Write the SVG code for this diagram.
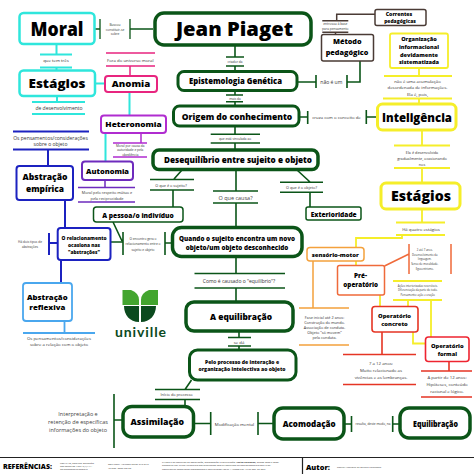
<svg xmlns="http://www.w3.org/2000/svg" width="474" height="474" viewBox="0 0 474 474">
<style>
text{font-family:"Open Sans","Noto Sans","Liberation Sans",sans-serif;text-anchor:middle;fill:#000}
.b{font-weight:800}
.xs{fill:#333;font-size:3.200px}
.xt{fill:#333;font-size:2.700px}
.xm{fill:#333;font-size:3.800px}
.t{fill:#333;font-size:4.300px}
.t5{fill:#333;font-size:5px}
.m{fill:#444;font-size:5.500px}
.f{fill:#333;font-size:2.400px;text-anchor:start}
rect{fill:#fff}
path{fill:none}
.dg{stroke:#0b5518}
.g3{stroke-width:3.5}
.cy{stroke:#2fe6dc;stroke-width:2}
.yl{stroke:#f5ee2a;stroke-width:1.8}
.bl{stroke:#1c22c0;stroke-width:2}
.lb{stroke:#4aa7ee;stroke-width:1.8}
.pk{stroke:#e8257f;stroke-width:1.5}
.pu{stroke:#b02cd0;stroke-width:1.5}
.vi{stroke:#6e2bbd;stroke-width:1.5}
.or{stroke:#f4a13c;stroke-width:1.5}
.ro{stroke:#ef6a3a;stroke-width:1.5}
.rd{stroke:#e53524;stroke-width:1.6}
.br{stroke:#4a3b35;stroke-width:1.5}
</style>
<rect x="0" y="0" width="474" height="474" style="fill:#fff"/>
<g id="connectors">
<path class="dg" stroke-width="1.300" d="M95 29H100M100 19V39M130 19V39M130 29H153"/>
<path class="cy" d="M56.500 44V54.500M56.500 67.500V70M40 54.500H72M40 67.500H72M57 96V102M32 102H85M32 114H85M95 83.500H105"/>
<path class="pk" d="M106 53H155M106 66H155M130 66V76"/>
<path class="cy" d="M129.500 92V115M105.500 133V161.500"/>
<path class="pu" d="M141 133V143M113 143H147M113 157H147"/>
<path class="vi" d="M105 180V187.500M78 187.500H135M78 202H135"/>
<path class="bl" d="M13 131.500H89M13 149.500H89M48 150V166M65 200V228M49 243H58M49 233V255M61 260V283"/>
<path class="lb" d="M64.500 321V333M23 333H95"/>
<path class="dg" stroke-width="1.600" d="M235 46V57M235 66V71M226 57H244M226 66H244M235 90V95M235 101.700V106M226 95H243M226 101.700H243M235 127V134.300M235 143V150M210.700 134.300H260M210.700 143H260"/>
<path class="dg" stroke-width="1.600" d="M298 82H316M316 75V88M347 75V88M347 82H360V61"/>
<path class="dg" stroke-width="1.600" d="M299 117H307.700M307.700 111V124M366.300 110V124M366.300 117H376"/>
<path class="br" d="M375 14.300H336.700V20.700M322.300 20.700H348.300M322.300 32.300H348.300M335.500 32.300V34.500"/>
<path class="yl" d="M419 68V76M384 76H452M383 98.500H452M419 99V104M422 130V145M394 145.500H450M394 168H450M422 168V183M422 209V222M396 222.500H445M396 235H445M402 236V238H356V265M380 295V307M393 281H442M393 300H442M408 300V306M413 332V343.500H425.500M431 300V337"/>
<path class="dg" stroke-width="1.600" d="M182 170L174 179M150 179.500H194M150 190H194M173 190V207M297 170L310 182M280 182.300H323M280 192.300H323M310 193V207M236 170V191M236 203V227M213 191H258M213 203H258"/>
<path class="dg" stroke-width="1.600" d="M113 222L122 241M111 242H123M123 232V255M165 232V255M165 243H172"/>
<path class="dg" stroke-width="1.600" d="M236 256V273.500M236 288V302M194.500 273.500H285M194.500 288H285M239 331V337.500M239 346V350M228 337.500H251M228 346H251M191.500 380L185 389.500M155 389.500H200M155 399.500H200M185 400V406.500"/>
<path class="dg" stroke-width="1.600" d="M114 394V448M114 420H123M194 423.500H211M210.700 412V435M258 412V435M258 423.500H274M344 424H351.500M351.500 416V432M392.700 416V432M392.700 424H400"/>
<path class="or" d="M313 261V308M299 308H349M299 345H349"/>
<path class="ro" d="M384.500 266L409 254M409 244V274M451 244V274"/>
<path class="rd" d="M382 332V354.500M343 354.500H416M343 384.500H416M449 361.500V371M421 371H472M421 397H472"/>
</g>
<g id="moral"><rect class="cy" style="stroke-width:2.500" x="19.500" y="13" width="75" height="31" rx="4"/><text class="b" x="57" y="35.700" font-size="19.600" textLength="53" lengthAdjust="spacingAndGlyphs">Moral</text></g>
<g id="estagios-moral"><rect class="cy" style="stroke-width:2.500" x="19.500" y="70.500" width="75.500" height="25.500" rx="4"/><text class="b" x="57" y="87.700" font-size="13" textLength="57" lengthAdjust="spacingAndGlyphs">Estágios</text></g>
<g id="jean-piaget"><rect class="dg g3" x="155" y="13" width="156" height="32" rx="9"/><text class="b" x="234.500" y="35.700" font-size="20" textLength="117" lengthAdjust="spacingAndGlyphs">Jean Piaget</text></g>
<g id="epistemologia"><rect class="dg" stroke-width="3" x="178" y="71.500" width="119" height="19" rx="6"/><text class="b" x="235.500" y="83.500" font-size="8" textLength="93" lengthAdjust="spacingAndGlyphs">Epistemologia Genética</text></g>
<g id="origem"><rect class="dg" stroke-width="3" x="173.500" y="106" width="125.500" height="20" rx="6"/><text class="b" x="237" y="119.500" font-size="8.500" textLength="110.600" lengthAdjust="spacingAndGlyphs">Origem do conhecimento</text></g>
<g id="desequilibrio"><rect class="dg" stroke-width="3.500" x="153" y="150" width="165" height="19.500" rx="6"/><text class="b" x="238" y="163.300" font-size="9" textLength="148" lengthAdjust="spacingAndGlyphs">Desequilíbrio entre sujeito e objeto</text></g>
<g id="quando"><rect class="dg g3" x="172.500" y="227.500" width="129.500" height="29" rx="9"/><text class="b" x="237" y="240.700" font-size="7" textLength="116" lengthAdjust="spacingAndGlyphs">Quando o sujeito encontra um novo</text><text class="b" x="237" y="249.500" font-size="7" textLength="102.600" lengthAdjust="spacingAndGlyphs">objeto/um objeto desconhecido</text></g>
<g id="a-equilibracao"><rect class="dg g3" x="186" y="302" width="107" height="29" rx="8"/><text class="b" x="241" y="320" font-size="9" textLength="62" lengthAdjust="spacingAndGlyphs">A equilibração</text></g>
<g id="pelo-processo"><rect class="dg" stroke-width="3" x="189.500" y="350" width="106.500" height="30" rx="8"/><text class="b" x="242" y="364" font-size="5" textLength="74" lengthAdjust="spacingAndGlyphs">Pelo processo de interação e</text><text class="b" x="242" y="371" font-size="5" textLength="87" lengthAdjust="spacingAndGlyphs">organização intelectiva ao objeto</text></g>
<g id="assimilacao"><rect class="dg g3" x="123" y="406.500" width="70.500" height="30.500" rx="9"/><text class="b" x="157.300" y="425" font-size="9.500" textLength="53.500" lengthAdjust="spacingAndGlyphs">Assimilação</text></g>
<g id="acomodacao"><rect class="dg g3" x="274" y="408" width="70" height="31" rx="9"/><text class="b" x="309.200" y="427.300" font-size="9.500" textLength="53" lengthAdjust="spacingAndGlyphs">Acomodação</text></g>
<g id="equilibracao"><rect class="dg g3" x="400" y="408" width="70" height="30" rx="9"/><text class="b" x="435.500" y="427.300" font-size="8.600" textLength="45" lengthAdjust="spacingAndGlyphs">Equilibração</text></g>
<g id="a-pessoa"><rect class="dg" stroke-width="1.500" x="93.500" y="207" width="89.500" height="15" rx="3"/><text class="b" x="138" y="217.500" font-size="7.500" textLength="71.700" lengthAdjust="spacingAndGlyphs">A pessoa/o indivíduo</text></g>
<g id="exterioridade"><rect class="dg" stroke-width="1.500" x="306" y="207" width="55" height="13" rx="2"/><text class="b" x="333.700" y="216.500" font-size="6.300" textLength="46" lengthAdjust="spacingAndGlyphs">Exterioridade</text></g>
<g id="metodo"><rect class="br" x="321.500" y="34.500" width="52" height="26.500" rx="2"/><text class="b" x="347.300" y="44" font-size="6.500" textLength="28.700" lengthAdjust="spacingAndGlyphs">Método</text><text class="b" x="347" y="54.500" font-size="6.500" textLength="42.600" lengthAdjust="spacingAndGlyphs">pedagógico</text></g>
<g id="correntes"><rect class="br" x="375" y="9.500" width="51" height="16" rx="2"/><text class="b" x="399" y="16" font-size="4.500" textLength="26.600" lengthAdjust="spacingAndGlyphs">Correntes</text><text class="b" x="400" y="23" font-size="4.500" textLength="31.700" lengthAdjust="spacingAndGlyphs">pedagógicas</text></g>
<g id="organizacao"><rect class="yl" x="390" y="33.500" width="58" height="34.500" rx="2"/><text class="b" x="419" y="41" font-size="5.200" textLength="35.700" lengthAdjust="spacingAndGlyphs">Organização</text><text class="b" x="419" y="48.500" font-size="5.200" textLength="40" lengthAdjust="spacingAndGlyphs">informacional</text><text class="b" x="419" y="56.500" font-size="5.200" textLength="38" lengthAdjust="spacingAndGlyphs">devidamente</text><text class="b" x="419" y="64" font-size="5.200" textLength="40" lengthAdjust="spacingAndGlyphs">sistematizada</text></g>
<g id="inteligencia"><rect class="yl" style="stroke-width:3" x="377.500" y="104" width="78.500" height="26" rx="5"/><text class="b" x="417" y="121.700" font-size="12.600" textLength="70" lengthAdjust="spacingAndGlyphs">Inteligência</text></g>
<g id="estagios"><rect class="yl" style="stroke-width:3" x="381" y="183" width="79" height="26" rx="5"/><text class="b" x="421" y="200.700" font-size="14" textLength="60" lengthAdjust="spacingAndGlyphs">Estágios</text></g>
<g id="anomia"><rect class="pk" style="stroke-width:2" x="105" y="76" width="52" height="16" rx="3"/><text class="b" x="131" y="87" font-size="8" textLength="38.300" lengthAdjust="spacingAndGlyphs">Anomia</text></g>
<g id="heteronomia"><rect class="pu" style="stroke-width:2" x="101" y="115.500" width="65" height="17.500" rx="3"/><text class="b" x="133.500" y="127" font-size="7.500" textLength="56.400" lengthAdjust="spacingAndGlyphs">Heteronomia</text></g>
<g id="autonomia"><rect class="vi" style="stroke-width:2" x="82" y="161.500" width="51" height="18.500" rx="3"/><text class="b" x="107.500" y="173.500" font-size="7.500" textLength="43" lengthAdjust="spacingAndGlyphs">Autonomia</text></g>
<g id="abstracao-empirica"><rect class="bl" x="16.500" y="166" width="56.500" height="34" rx="3"/><text class="b" x="45" y="179.500" font-size="8" textLength="45" lengthAdjust="spacingAndGlyphs">Abstração</text><text class="b" x="45" y="191.500" font-size="8" textLength="38" lengthAdjust="spacingAndGlyphs">empírica</text></g>
<g id="relacionamento"><rect class="bl" x="57.700" y="228" width="52.800" height="32" rx="3"/><text class="b" x="84" y="239.500" font-size="4.800" textLength="45" lengthAdjust="spacingAndGlyphs">O relacionamento</text><text class="b" x="84" y="246.500" font-size="4.800" textLength="32" lengthAdjust="spacingAndGlyphs">ocasiona nas</text><text class="b" x="84" y="253.500" font-size="4.800" textLength="32" lengthAdjust="spacingAndGlyphs">"abstrações"</text></g>
<g id="abstracao-reflexiva"><rect class="lb" x="23" y="283" width="49" height="38" rx="3"/><text class="b" x="47.300" y="299.500" font-size="7" textLength="40.700" lengthAdjust="spacingAndGlyphs">Abstração</text><text class="b" x="47.300" y="310" font-size="7" textLength="36" lengthAdjust="spacingAndGlyphs">reflexiva</text></g>
<g id="sensorio"><rect class="or" x="307" y="247.500" width="57" height="13.500" rx="3"/><text class="b" x="335.300" y="257" font-size="5.500" textLength="47.300" lengthAdjust="spacingAndGlyphs">sensório-motor</text></g>
<g id="pre-operatorio"><rect class="ro" x="337.500" y="265.500" width="47" height="29.500" rx="2"/><text class="b" x="360.500" y="278" font-size="6" textLength="13" lengthAdjust="spacingAndGlyphs">Pré-</text><text class="b" x="360.700" y="287" font-size="6" textLength="34.700" lengthAdjust="spacingAndGlyphs">operatório</text></g>
<g id="concreto"><rect class="rd" x="372" y="306.500" width="46" height="25.500" rx="3"/><text class="b" x="394.500" y="317.500" font-size="5.400" textLength="33" lengthAdjust="spacingAndGlyphs">Operatório</text><text class="b" x="394.500" y="325.500" font-size="5.400" textLength="26.700" lengthAdjust="spacingAndGlyphs">concreto</text></g>
<g id="formal"><rect stroke="#ee2430" stroke-width="1.600" x="425.500" y="337" width="43.500" height="24.500" rx="3"/><text class="b" x="447.300" y="347.500" font-size="5.200" textLength="32.700" lengthAdjust="spacingAndGlyphs">Operatório</text><text class="b" x="447.300" y="355.500" font-size="5.200" textLength="19.300" lengthAdjust="spacingAndGlyphs">formal</text></g>
<g id="labels">
<text class="xs" x="115" y="26">Buscou</text><text class="xs" x="115" y="30.500">constituir-se</text><text class="xs" x="115" y="35">sobre</text>
<text class="t" x="56" y="61.500">que tem três</text>
<text class="t5" x="59" y="110">de desenvolvimento</text>
<text class="t" x="130.300" y="61.500">Fora do universo moral</text>
<text class="xs" x="130.300" y="147">Moral por causa da</text><text class="xs" x="130.300" y="151.300">autoridade e pela</text><text class="xs" x="130.300" y="155.600">obediência</text>
<text class="xm" x="107" y="194">Moral pelo respeito mútuo e</text><text class="xm" x="107" y="199.500">pela reciprocidade</text>
<text class="t5" x="50.500" y="139.500">Os pensamentos/considerações</text><text class="t5" x="50.500" y="146">sobre o objeto</text>
<text class="xs" x="30" y="243">Há dois tipos de</text><text class="xs" x="30" y="248">abstrações</text>
<text class="xs" x="143" y="240">O encontro gera o</text><text class="xs" x="143" y="245">relacionamento entre o</text><text class="xs" x="143" y="250.500">sujeito e objeto</text>
<text class="t" x="59" y="340">Os pensamentos/considerações</text><text class="t" x="59" y="346">sobre a relação com o objeto</text>
<text class="xs" x="235" y="63">criador da</text>
<text class="xs" x="235" y="99.500">mais da</text>
<text class="xs" x="235" y="140">que está vinculada ao</text>
<text class="t5" x="331.300" y="84">não é um</text>
<text class="t" x="336.500" y="118.800">cruza com o conceito de</text>
<text class="xs" x="335.300" y="25.300">entrosou à base</text><text class="xs" x="335.300" y="29.500">para pensamento</text>
<text class="t" x="417.500" y="82.500">não é uma acumulação</text><text class="t" x="417.500" y="89.200">desordenada de informações.</text><text class="t" x="417.500" y="95.800">Ela é, pois,</text>
<text class="xm" x="422" y="153.700">Ela é desenvolvida</text><text class="xm" x="422" y="159.500">gradualmente, ocasionando</text><text class="xm" x="422" y="165.500">nos</text>
<text class="t" x="421" y="231">Há quatro estágios</text>
<text class="xm" x="171" y="186.500">O que é o sujeito?</text>
<text class="xm" x="301.500" y="188.800">O que é o objeto?</text>
<text class="m" x="235.500" y="200">O que causa?</text>
<text class="t5" x="239" y="282.500">Como é causado o "equilíbrio"?</text>
<text class="t" x="239" y="343.500">se dá</text>
<text class="xm" x="176.500" y="396">Início do processo</text>
<text class="t" x="234.500" y="425.500">Modificação mental</text>
<text class="xs" x="373" y="425.300">resulta, deste modo, na</text>
<text class="m" x="78" y="415.500">Interpretação e</text><text class="m" x="78" y="423.500">retenção de específicas</text><text class="m" x="78" y="431.500">informações do objeto</text>
<text class="xm" x="324.500" y="318.600">Fase inicial até 2 anos:</text><text class="xm" x="324.500" y="323.600">Construção do mundo.</text><text class="xm" x="324.500" y="328.600">Associação de conduta.</text><text class="xm" x="324.500" y="333.600">Objeto "só movem"</text><text class="xm" x="324.500" y="338.600">pela conduta.</text>
<text class="xt" x="424.700" y="251.300">2 até 7 anos.</text><text class="xt" x="424.700" y="256">Desenvolvimento da</text><text class="xt" x="424.700" y="260.300">linguagem.</text><text class="xt" x="424.700" y="265">Senso de moralidade.</text><text class="xt" x="424.700" y="269.700">Egocentrismo.</text>
<text class="xt" x="417.700" y="287.300">Ações interiorizadas reversíveis.</text><text class="xt" x="417.700" y="291.300">Diferenciação da parte do todo.</text><text class="xt" x="417.700" y="295.700">Pensamento: ação e oração</text>
<text class="t" x="381" y="365">7 a 12 anos:</text><text class="t" x="381" y="372">Muito relacionado as</text><text class="t" x="381" y="379">vivências e as lembranças.</text>
<text class="t" x="447" y="379">A partir de 12 anos:</text><text class="t" x="447" y="386">Hipóteses, conteúdo</text><text class="t" x="447" y="392.500">racional e lógico.</text>
</g>
<g id="logo">
<path style="fill:#43a52f" d="M122.500 290H131Q139 293 139 300V305H122.500ZM158 290H149Q141 293 141 300V305H158Z"/>
<path style="fill:#0b4a1e" d="M124 306H139V322C130 322 124 315 124 306ZM141 306H156C156 315 150 322 141 322Z"/>
<text x="140.500" y="336.800" font-size="14" textLength="51" lengthAdjust="spacing" style="font-family:Lato,'Noto Sans',sans-serif;font-weight:700;fill:#0b4a1e">univille</text>
</g>
<g id="footer">
<path stroke="#222" stroke-width="1.200" d="M0 457.500H474M302.500 458V474"/>
<text class="b" x="27.500" y="469" font-size="7" textLength="49" lengthAdjust="spacingAndGlyphs">REFERÊNCIAS:</text>
<text class="b" x="318" y="469.500" font-size="7.500" textLength="24" lengthAdjust="spacingAndGlyphs">Autor:</text>
<text class="f" x="337" y="467.500">Gabriel Henrique de Oliveira Fernandes</text>
<text class="f" x="60" y="464">COLAÇÃO, pontuda. Educação:</text><text class="f" x="60" y="467">dos conceitos 1999. 5(1):114-</text><text class="f" x="60" y="470">do pensamento/escola/a</text>
<text class="f" x="108" y="465">BOK Paget. Algumas ideias: p45-37 p</text><text class="f" x="108" y="468.500">101805. 2002.735 p8</text>
<text class="f" x="162" y="463">PIAGET e os conceitos de assimilação, acomodação e equilibração. <tspan font-weight="700">Portal Educação</tspan>, acesso 2002 e 2020.</text><text class="f" x="162" y="466">Disponível em: https://siteantigo.portaleducacao.com.br/conteudo/artigos/pedagogia/piaget-e-os-</text><text class="f" x="162" y="469.500">conceitos-de-assimilacao-acomodacao-e-equilibracao/40677 &gt; Acesso em: 19 de ago. de 2021</text>
</g>
</svg>
